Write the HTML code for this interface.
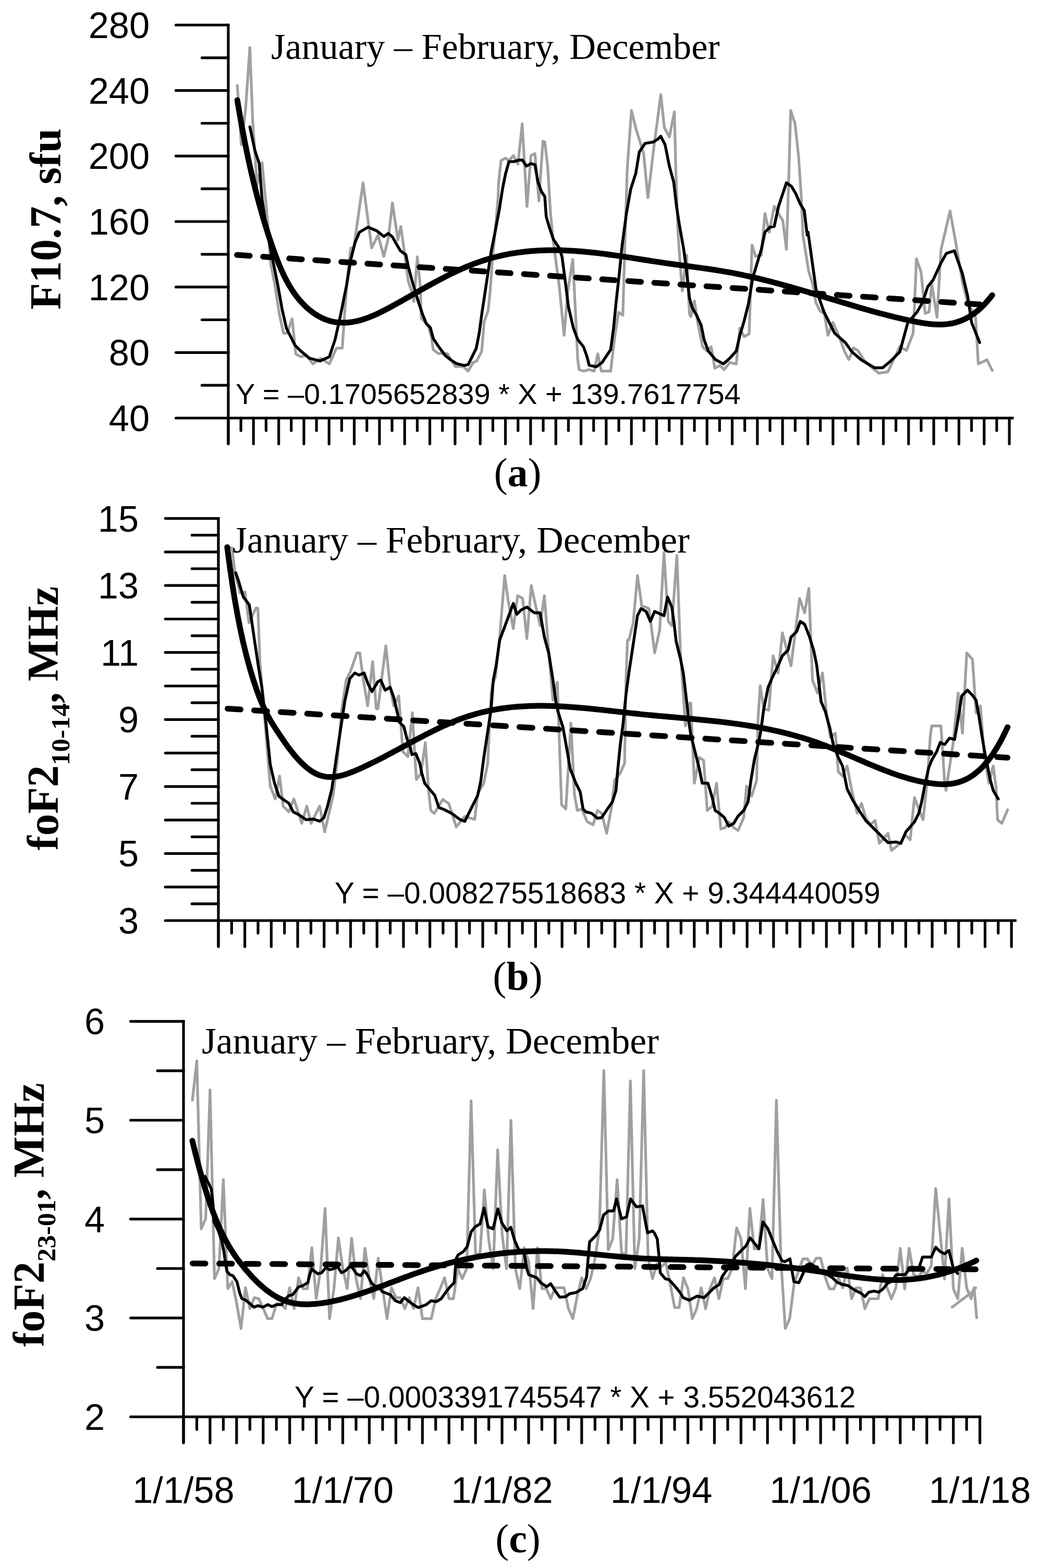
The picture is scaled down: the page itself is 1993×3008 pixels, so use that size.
<!DOCTYPE html>
<html><head><meta charset="utf-8"><title>F10.7 and foF2 trends</title>
<style>
html,body{margin:0;padding:0;background:#fff;}
body{width:1993px;height:3008px;overflow:hidden;}
svg{display:block;}
.k{stroke:#000;stroke-width:5.2;fill:none;}
.r{stroke-linecap:round;}
.num{font-family:"Liberation Sans",Arial,sans-serif;font-size:70.3px;fill:#000;}
.eq{font-family:"Liberation Sans",Arial,sans-serif;font-size:56px;fill:#000;}
.ttl{font-family:"Liberation Serif","Times New Roman",serif;font-size:70.2px;fill:#000;}
.yt{font-family:"Liberation Serif","Times New Roman",serif;font-size:84px;font-weight:bold;fill:#000;}
.cap{font-family:"Liberation Serif","Times New Roman",serif;font-size:78px;fill:#000;}
.gray{stroke:#a0a0a0;stroke-width:5.2;fill:none;stroke-linejoin:round;stroke-linecap:round;}
.thin{stroke:#000;stroke-width:5.5;fill:none;stroke-linejoin:round;stroke-linecap:round;}
.thick{stroke:#000;stroke-width:11;fill:none;stroke-linejoin:round;stroke-linecap:round;}
.dash{stroke:#000;stroke-width:11;fill:none;stroke-dasharray:25 25.6;stroke-linecap:round;}
</style></head><body>
<svg width="1993" height="3008" viewBox="0 0 1993 3008">

<path class="gray" d="M455.2,163.8 L462.9,277.8 L471.1,209.1 L479.3,91.0 L484.8,233.8 L493.1,354.7 L502.7,312.1 L513.7,428.9 L519.2,505.8 L527.4,547.0 L535.7,602.0 L543.9,639.1 L550.8,639.1 L560.4,611.6 L567.3,678.9 L576.9,684.4 L587.9,681.6 L600.2,698.1 L615.3,687.1 L631.8,698.1 L645.5,667.9 L656.5,667.9 L662.0,588.2 L667.5,519.6 L673.0,475.6 L678.5,475.6 L684.0,437.1 L696.4,350.6 L712.9,475.6 L725.2,450.9 L736.2,492.1 L745.0,456.3 L752.7,389.3 L763.2,460.1 L768.9,434.3 L775.6,483.1 L783.3,540.5 L790.0,559.6 L793.8,578.7 L800.5,492.6 L806.2,550.0 L808.1,611.2 L813.9,617.0 L821.5,624.6 L827.3,645.7 L831.1,670.6 L840.7,678.2 L857.9,678.2 L867.4,693.5 L873.2,703.1 L888.5,703.1 L898.1,711.7 L907.6,695.4 L914.3,692.6 L923.9,674.4 L928.7,617.0 L936.3,595.9 L940.2,559.6 L944.9,492.6 L949.7,444.8 L955.5,377.8 L956.2,353.1 L961.0,308.1 L969.6,303.3 L976.3,308.1 L984.9,298.5 L993.5,314.8 L1001.7,237.3 L1010.8,396.1 L1018.4,298.5 L1026.1,294.7 L1033.7,385.6 L1041.4,270.8 L1045.0,272.3 L1050.5,319.0 L1056.0,409.7 L1061.5,464.6 L1067.0,505.8 L1072.5,547.0 L1076.6,588.2 L1082.1,643.2 L1089.0,560.8 L1098.6,497.6 L1104.1,602.0 L1108.2,689.9 L1110.9,709.1 L1119.2,711.9 L1130.2,709.1 L1139.8,711.9 L1146.6,678.9 L1153.5,711.9 L1163.1,711.9 L1171.4,711.9 L1179.6,643.2 L1186.5,599.2 L1194.7,604.7 L1198.8,464.6 L1203.0,327.3 L1211.2,211.9 L1220.8,250.3 L1227.7,272.3 L1234.6,294.3 L1242.8,379.5 L1253.8,286.0 L1267.5,181.6 L1274.4,244.8 L1284.0,262.7 L1293.6,214.6 L1296.4,327.3 L1300.5,445.4 L1304.6,505.8 L1308.7,558.0 L1317.0,489.3 L1319.7,547.0 L1322.5,602.0 L1325.2,607.5 L1332.1,577.3 L1337.6,615.7 L1345.0,651.4 L1347.7,665.2 L1356.0,673.4 L1364.2,665.2 L1371.1,706.4 L1380.7,700.9 L1389.0,709.1 L1399.9,695.4 L1412.3,698.1 L1419.2,629.5 L1427.4,645.9 L1437.0,640.4 L1442.5,470.1 L1449.4,492.1 L1460.4,489.3 L1467.3,409.7 L1475.5,445.4 L1485.1,395.9 L1493.4,409.7 L1501.6,423.4 L1508.5,478.4 L1512.6,354.7 L1516.7,211.9 L1524.9,236.6 L1531.8,299.8 L1537.3,382.2 L1540.1,450.9 L1551.0,519.6 L1559.3,547.0 L1564.8,580.0 L1573.0,596.5 L1581.3,602.0 L1588.1,643.2 L1597.7,618.5 L1608.7,643.2 L1619.7,673.4 L1628.0,689.9 L1636.2,670.7 L1636.7,667.3 L1645.7,672.4 L1657.1,690.3 L1669.9,703.1 L1685.2,715.8 L1703.1,713.3 L1726.0,664.8 L1738.8,672.4 L1751.5,639.3 L1754.1,588.3 L1757.9,496.4 L1766.8,521.9 L1774.5,601.0 L1782.1,598.5 L1787.2,544.9 L1797.4,608.7 L1805.1,478.6 L1822.4,404.6 L1835.7,478.6 L1845.9,539.8 L1856.1,580.6 L1871.4,608.7 L1876.5,698.0 L1893.1,690.3 L1903.3,710.7"/>
<path class="thin" d="M479.3,243.5 L489.0,288.8 L497.2,313.5 L502.7,382.2 L510.9,437.1 L521.9,492.1 L532.9,547.0 L541.2,593.7 L549.4,629.5 L565.9,662.4 L576.9,673.4 L593.4,687.1 L614.0,692.6 L631.8,684.4 L642.8,651.4 L653.8,602.0 L664.8,547.0 L673.0,497.6 L681.3,464.6 L689.5,445.4 L706.0,435.8 L722.5,442.6 L736.2,453.6 L745.0,447.7 L752.7,454.4 L760.3,467.8 L768.0,481.1 L778.5,488.8 L783.3,511.8 L790.9,540.5 L796.7,559.6 L802.4,578.7 L810.1,601.7 L817.7,620.8 L825.4,628.5 L831.1,649.5 L834.9,655.3 L842.6,666.7 L854.1,682.0 L863.6,689.7 L875.1,697.3 L890.4,701.2 L898.1,699.3 L905.7,684.0 L913.4,668.6 L919.1,639.9 L924.8,597.9 L930.6,559.6 L936.3,521.3 L942.1,483.1 L949.7,444.8 L958.1,400.0 L963.9,362.6 L969.6,333.9 L976.3,310.0 L985.9,310.0 L995.4,307.1 L1002.1,307.1 L1009.8,318.6 L1018.4,313.8 L1026.1,315.8 L1031.8,348.3 L1038.5,367.4 L1045.0,377.0 L1047.7,415.2 L1053.2,434.4 L1061.5,459.1 L1072.5,475.6 L1078.0,492.1 L1083.5,533.3 L1090.3,588.2 L1099.9,629.5 L1108.2,651.4 L1119.2,665.2 L1126.0,684.4 L1130.2,700.9 L1143.9,703.6 L1154.9,695.4 L1165.9,678.9 L1171.4,670.7 L1176.9,629.5 L1182.4,574.5 L1187.9,525.1 L1193.4,470.1 L1201.6,409.7 L1209.8,363.0 L1219.5,332.7 L1226.3,291.5 L1237.3,275.1 L1253.8,272.3 L1262.0,266.8 L1267.5,261.3 L1275.8,277.8 L1284.0,319.0 L1292.3,349.2 L1297.7,395.9 L1303.2,431.6 L1311.5,478.4 L1317.0,519.6 L1322.5,571.8 L1328.0,591.0 L1336.2,604.7 L1345.0,624.0 L1350.5,651.4 L1358.7,673.4 L1372.5,689.9 L1387.6,698.1 L1399.9,687.1 L1412.3,673.4 L1419.2,643.2 L1427.4,615.7 L1435.7,582.7 L1443.9,533.3 L1452.1,505.8 L1460.4,478.4 L1467.3,445.4 L1476.9,435.8 L1485.1,434.4 L1493.4,395.9 L1508.5,350.6 L1518.1,357.5 L1526.3,371.2 L1534.6,390.4 L1542.8,404.2 L1548.3,450.9 L1550.0,445.4 L1565.3,555.1 L1580.6,598.5 L1601.0,639.3 L1621.4,657.1 L1634.2,675.0 L1652.0,690.3 L1677.6,705.6 L1692.9,705.6 L1708.2,692.9 L1726.0,675.0 L1741.3,618.9 L1759.2,598.5 L1769.4,580.6 L1779.6,550.0 L1789.8,537.2 L1805.1,504.1 L1815.3,486.2 L1830.6,481.1 L1845.9,524.5 L1856.1,567.9 L1863.8,618.9 L1879.1,657.1"/>
<path class="dash" style="stroke-dasharray:24.5 25.64" d="M454.6,489.1 L1902.5,585.6"/>
<path class="thick" d="M455.2,192.1 L460.2,221.8 L465.2,249.5 L470.2,275.5 L475.2,299.8 L480.2,322.7 L485.2,344.3 L490.2,364.6 L495.2,383.8 L500.2,402.0 L505.1,419.3 L510.1,435.7 L515.1,451.4 L520.1,466.4 L525.1,480.7 L530.1,494.2 L535.1,506.9 L540.1,518.6 L545.1,529.4 L550.1,539.3 L555.1,548.2 L560.1,556.2 L565.1,563.6 L570.1,570.2 L575.1,576.2 L580.0,581.7 L585.0,586.7 L590.0,591.4 L595.0,595.6 L600.0,599.4 L605.0,602.9 L610.0,606.0 L615.0,608.7 L620.0,611.1 L625.0,613.1 L630.0,614.9 L635.0,616.3 L640.0,617.4 L645.0,618.2 L650.0,618.8 L654.9,619.1 L659.9,619.1 L664.9,618.9 L669.9,618.5 L674.9,617.8 L679.9,616.9 L684.9,615.9 L689.9,614.6 L694.9,613.2 L699.9,611.6 L704.9,609.8 L709.9,607.9 L714.9,605.9 L719.9,603.7 L724.9,601.4 L729.9,599.0 L734.8,596.5 L739.8,594.0 L744.8,591.4 L749.8,588.7 L754.8,585.9 L759.8,583.2 L764.8,580.4 L769.8,577.6 L774.8,574.7 L779.8,571.9 L784.8,569.1 L789.8,566.2 L794.8,563.4 L799.8,560.6 L804.8,557.7 L809.7,554.9 L814.7,552.1 L819.7,549.4 L824.7,546.6 L829.7,543.9 L834.7,541.2 L839.7,538.5 L844.7,535.9 L849.7,533.3 L854.7,530.7 L859.7,528.2 L864.7,525.7 L869.7,523.3 L874.7,520.9 L879.7,518.6 L884.6,516.3 L889.6,514.1 L894.6,511.9 L899.6,509.9 L904.6,507.9 L909.6,505.9 L914.6,504.1 L919.6,502.3 L924.6,500.6 L929.6,499.0 L934.6,497.4 L939.6,495.9 L944.6,494.5 L949.6,493.2 L954.6,492.0 L959.5,490.8 L964.5,489.7 L969.5,488.6 L974.5,487.6 L979.5,486.7 L984.5,485.9 L989.5,485.1 L994.5,484.4 L999.5,483.7 L1004.5,483.1 L1009.5,482.5 L1014.5,482.0 L1019.5,481.6 L1024.5,481.2 L1029.5,480.9 L1034.5,480.6 L1039.4,480.4 L1044.4,480.2 L1049.4,480.1 L1054.4,480.0 L1059.4,480.0 L1064.4,480.0 L1069.4,480.0 L1074.4,480.1 L1079.4,480.3 L1084.4,480.4 L1089.4,480.7 L1094.4,480.9 L1099.4,481.2 L1104.4,481.5 L1109.4,481.9 L1114.3,482.3 L1119.3,482.7 L1124.3,483.2 L1129.3,483.7 L1134.3,484.2 L1139.3,484.7 L1144.3,485.3 L1149.3,485.9 L1154.3,486.5 L1159.3,487.1 L1164.3,487.8 L1169.3,488.5 L1174.3,489.2 L1179.3,489.9 L1184.3,490.6 L1189.2,491.3 L1194.2,492.1 L1199.2,492.8 L1204.2,493.6 L1209.2,494.3 L1214.2,495.1 L1219.2,495.9 L1224.2,496.7 L1229.2,497.5 L1234.2,498.3 L1239.2,499.0 L1244.2,499.8 L1249.2,500.6 L1254.2,501.4 L1259.2,502.1 L1264.2,502.9 L1269.1,503.6 L1274.1,504.4 L1279.1,505.1 L1284.1,505.8 L1289.1,506.5 L1294.1,507.2 L1299.1,507.9 L1304.1,508.5 L1309.1,509.2 L1314.1,509.9 L1319.1,510.5 L1324.1,511.2 L1329.1,511.9 L1334.1,512.6 L1339.1,513.2 L1344.0,513.9 L1349.0,514.6 L1354.0,515.3 L1359.0,516.0 L1364.0,516.8 L1369.0,517.5 L1374.0,518.3 L1379.0,519.1 L1384.0,519.9 L1389.0,520.8 L1394.0,521.6 L1399.0,522.5 L1404.0,523.4 L1409.0,524.4 L1414.0,525.4 L1418.9,526.4 L1423.9,527.4 L1428.9,528.5 L1433.9,529.6 L1438.9,530.7 L1443.9,531.8 L1448.9,533.0 L1453.9,534.2 L1458.9,535.4 L1463.9,536.6 L1468.9,537.9 L1473.9,539.1 L1478.9,540.4 L1483.9,541.7 L1488.9,543.1 L1493.9,544.4 L1498.8,545.7 L1503.8,547.1 L1508.8,548.5 L1513.8,549.9 L1518.8,551.3 L1523.8,552.7 L1528.8,554.2 L1533.8,555.6 L1538.8,557.1 L1543.8,558.5 L1548.8,560.0 L1553.8,561.5 L1558.8,563.0 L1563.8,564.5 L1568.8,566.0 L1573.7,567.5 L1578.7,569.0 L1583.7,570.5 L1588.7,572.0 L1593.7,573.5 L1598.7,575.1 L1603.7,576.6 L1608.7,578.1 L1613.7,579.6 L1618.7,581.1 L1623.7,582.6 L1628.7,584.1 L1633.7,585.6 L1638.7,587.1 L1643.7,588.5 L1648.6,590.0 L1653.6,591.4 L1658.6,592.9 L1663.6,594.3 L1668.6,595.7 L1673.6,597.1 L1678.6,598.5 L1683.6,599.9 L1688.6,601.2 L1693.6,602.5 L1698.6,603.8 L1703.6,605.1 L1708.6,606.4 L1713.6,607.6 L1718.6,608.8 L1723.6,610.0 L1728.5,611.2 L1733.5,612.3 L1738.5,613.4 L1743.5,614.5 L1748.5,615.6 L1753.5,616.6 L1758.5,617.6 L1763.5,618.5 L1768.5,619.4 L1773.5,620.2 L1778.5,620.9 L1783.5,621.5 L1788.5,622.0 L1793.5,622.3 L1798.5,622.6 L1803.4,622.6 L1808.4,622.5 L1813.4,622.1 L1818.4,621.6 L1823.4,620.8 L1828.4,619.8 L1833.4,618.6 L1838.4,617.0 L1843.4,615.2 L1848.4,613.1 L1853.4,610.7 L1858.4,608.0 L1863.4,604.9 L1868.4,601.5 L1873.4,597.7 L1878.3,593.5 L1883.3,588.9 L1888.3,583.8 L1893.3,578.4 L1898.3,572.5 L1903.3,566.2"/>
<line x1="437.9" y1="45.4" x2="437.9" y2="851.6" class="k"/>
<line x1="437.9" y1="802.0" x2="437.9" y2="851.6" class="k r"/>
<line x1="337.4" y1="48.0" x2="437.9" y2="48.0" class="k r"/>
<line x1="387.4" y1="110.8" x2="437.9" y2="110.8" class="k r"/>
<line x1="337.4" y1="173.7" x2="437.9" y2="173.7" class="k r"/>
<line x1="387.4" y1="236.5" x2="437.9" y2="236.5" class="k r"/>
<line x1="337.4" y1="299.3" x2="437.9" y2="299.3" class="k r"/>
<line x1="387.4" y1="362.2" x2="437.9" y2="362.2" class="k r"/>
<line x1="337.4" y1="425.0" x2="437.9" y2="425.0" class="k r"/>
<line x1="387.4" y1="487.8" x2="437.9" y2="487.8" class="k r"/>
<line x1="337.4" y1="550.7" x2="437.9" y2="550.7" class="k r"/>
<line x1="387.4" y1="613.5" x2="437.9" y2="613.5" class="k r"/>
<line x1="337.4" y1="676.3" x2="437.9" y2="676.3" class="k r"/>
<line x1="387.4" y1="739.2" x2="437.9" y2="739.2" class="k r"/>
<line x1="337.4" y1="802.0" x2="437.9" y2="802.0" class="k r"/>
<line x1="435.3" y1="802.0" x2="1944.6" y2="802.0" class="k"/>
<line x1="462.1" y1="802.0" x2="462.1" y2="826.1" class="k r"/>
<line x1="486.2" y1="802.0" x2="486.2" y2="851.6" class="k r"/>
<line x1="510.4" y1="802.0" x2="510.4" y2="826.1" class="k r"/>
<line x1="534.6" y1="802.0" x2="534.6" y2="851.6" class="k r"/>
<line x1="558.7" y1="802.0" x2="558.7" y2="826.1" class="k r"/>
<line x1="582.9" y1="802.0" x2="582.9" y2="851.6" class="k r"/>
<line x1="607.1" y1="802.0" x2="607.1" y2="826.1" class="k r"/>
<line x1="631.2" y1="802.0" x2="631.2" y2="851.6" class="k r"/>
<line x1="655.4" y1="802.0" x2="655.4" y2="826.1" class="k r"/>
<line x1="679.5" y1="802.0" x2="679.5" y2="851.6" class="k r"/>
<line x1="703.7" y1="802.0" x2="703.7" y2="826.1" class="k r"/>
<line x1="727.9" y1="802.0" x2="727.9" y2="851.6" class="k r"/>
<line x1="752.0" y1="802.0" x2="752.0" y2="826.1" class="k r"/>
<line x1="776.2" y1="802.0" x2="776.2" y2="851.6" class="k r"/>
<line x1="800.4" y1="802.0" x2="800.4" y2="826.1" class="k r"/>
<line x1="824.5" y1="802.0" x2="824.5" y2="851.6" class="k r"/>
<line x1="848.7" y1="802.0" x2="848.7" y2="826.1" class="k r"/>
<line x1="872.9" y1="802.0" x2="872.9" y2="851.6" class="k r"/>
<line x1="897.0" y1="802.0" x2="897.0" y2="826.1" class="k r"/>
<line x1="921.2" y1="802.0" x2="921.2" y2="851.6" class="k r"/>
<line x1="945.4" y1="802.0" x2="945.4" y2="826.1" class="k r"/>
<line x1="969.5" y1="802.0" x2="969.5" y2="851.6" class="k r"/>
<line x1="993.7" y1="802.0" x2="993.7" y2="826.1" class="k r"/>
<line x1="1017.8" y1="802.0" x2="1017.8" y2="851.6" class="k r"/>
<line x1="1042.0" y1="802.0" x2="1042.0" y2="826.1" class="k r"/>
<line x1="1066.2" y1="802.0" x2="1066.2" y2="851.6" class="k r"/>
<line x1="1090.3" y1="802.0" x2="1090.3" y2="826.1" class="k r"/>
<line x1="1114.5" y1="802.0" x2="1114.5" y2="851.6" class="k r"/>
<line x1="1138.7" y1="802.0" x2="1138.7" y2="826.1" class="k r"/>
<line x1="1162.8" y1="802.0" x2="1162.8" y2="851.6" class="k r"/>
<line x1="1187.0" y1="802.0" x2="1187.0" y2="826.1" class="k r"/>
<line x1="1211.2" y1="802.0" x2="1211.2" y2="851.6" class="k r"/>
<line x1="1235.3" y1="802.0" x2="1235.3" y2="826.1" class="k r"/>
<line x1="1259.5" y1="802.0" x2="1259.5" y2="851.6" class="k r"/>
<line x1="1283.7" y1="802.0" x2="1283.7" y2="826.1" class="k r"/>
<line x1="1307.8" y1="802.0" x2="1307.8" y2="851.6" class="k r"/>
<line x1="1332.0" y1="802.0" x2="1332.0" y2="826.1" class="k r"/>
<line x1="1356.2" y1="802.0" x2="1356.2" y2="851.6" class="k r"/>
<line x1="1380.3" y1="802.0" x2="1380.3" y2="826.1" class="k r"/>
<line x1="1404.5" y1="802.0" x2="1404.5" y2="851.6" class="k r"/>
<line x1="1428.6" y1="802.0" x2="1428.6" y2="826.1" class="k r"/>
<line x1="1452.8" y1="802.0" x2="1452.8" y2="851.6" class="k r"/>
<line x1="1477.0" y1="802.0" x2="1477.0" y2="826.1" class="k r"/>
<line x1="1501.1" y1="802.0" x2="1501.1" y2="851.6" class="k r"/>
<line x1="1525.3" y1="802.0" x2="1525.3" y2="826.1" class="k r"/>
<line x1="1549.5" y1="802.0" x2="1549.5" y2="851.6" class="k r"/>
<line x1="1573.6" y1="802.0" x2="1573.6" y2="826.1" class="k r"/>
<line x1="1597.8" y1="802.0" x2="1597.8" y2="851.6" class="k r"/>
<line x1="1622.0" y1="802.0" x2="1622.0" y2="826.1" class="k r"/>
<line x1="1646.1" y1="802.0" x2="1646.1" y2="851.6" class="k r"/>
<line x1="1670.3" y1="802.0" x2="1670.3" y2="826.1" class="k r"/>
<line x1="1694.5" y1="802.0" x2="1694.5" y2="851.6" class="k r"/>
<line x1="1718.6" y1="802.0" x2="1718.6" y2="826.1" class="k r"/>
<line x1="1742.8" y1="802.0" x2="1742.8" y2="851.6" class="k r"/>
<line x1="1766.9" y1="802.0" x2="1766.9" y2="826.1" class="k r"/>
<line x1="1791.1" y1="802.0" x2="1791.1" y2="851.6" class="k r"/>
<line x1="1815.3" y1="802.0" x2="1815.3" y2="826.1" class="k r"/>
<line x1="1839.4" y1="802.0" x2="1839.4" y2="851.6" class="k r"/>
<line x1="1863.6" y1="802.0" x2="1863.6" y2="826.1" class="k r"/>
<line x1="1887.8" y1="802.0" x2="1887.8" y2="851.6" class="k r"/>
<line x1="1911.9" y1="802.0" x2="1911.9" y2="826.1" class="k r"/>
<line x1="1936.1" y1="802.0" x2="1936.1" y2="851.6" class="k r"/>
<text x="287" y="73.0" class="num" text-anchor="end">280</text>
<text x="287" y="198.7" class="num" text-anchor="end">240</text>
<text x="287" y="324.3" class="num" text-anchor="end">200</text>
<text x="287" y="450.0" class="num" text-anchor="end">160</text>
<text x="287" y="575.7" class="num" text-anchor="end">120</text>
<text x="287" y="701.3" class="num" text-anchor="end">80</text>
<text x="287" y="827.0" class="num" text-anchor="end">40</text>
<path class="gray" d="M435.8,1050.1 L445.3,1051.4 L450.3,1097.0 L460.5,1137.6 L470.0,1135.7 L477.6,1194.6 L490.9,1166.7 L494.7,1166.7 L498.5,1268.1 L512.9,1442.1 L518.4,1508.0 L528.0,1532.7 L536.3,1488.8 L543.1,1546.5 L554.1,1557.5 L563.7,1532.7 L578.8,1579.5 L588.5,1546.5 L596.7,1579.5 L613.2,1546.5 L622.8,1595.9 L639.3,1524.5 L647.5,1455.8 L655.8,1359.7 L664.0,1304.7 L672.3,1288.2 L684.6,1252.5 L690.1,1252.5 L697.0,1304.7 L705.2,1354.2 L714.8,1269.0 L721.7,1359.7 L725.0,1359.7 L740.1,1238.8 L748.4,1318.5 L755.2,1354.2 L764.8,1334.9 L772.8,1441.8 L782.4,1451.4 L791.0,1367.2 L794.8,1436.1 L798.7,1495.4 L807.3,1483.9 L815.9,1424.6 L822.6,1522.2 L826.4,1554.7 L833.1,1560.5 L849.4,1533.7 L860.8,1541.3 L875.2,1586.3 L891.5,1566.2 L910.6,1571.9 L916.3,1522.2 L927.8,1503.1 L935.5,1464.8 L942.0,1332.2 L944.8,1313.0 L950.3,1299.2 L958.5,1222.3 L968.1,1104.2 L975.0,1153.6 L984.6,1205.8 L992.9,1142.6 L1002.5,1148.1 L1010.7,1225.1 L1019.0,1123.4 L1025.0,1150.9 L1036.0,1200.3 L1044.2,1142.6 L1052.5,1249.8 L1060.7,1343.2 L1069.0,1308.8 L1077.2,1543.7 L1085.4,1552.0 L1095.1,1387.1 L1101.9,1524.5 L1107.4,1554.7 L1115.7,1552.0 L1126.6,1576.7 L1137.6,1582.2 L1145.9,1554.7 L1154.1,1560.2 L1163.7,1598.7 L1173.4,1546.5 L1178.8,1497.0 L1189.8,1483.3 L1198.1,1464.1 L1200.8,1304.7 L1203.6,1227.8 L1206.3,1227.8 L1214.6,1194.8 L1222.8,1104.2 L1231.0,1161.9 L1244.8,1167.4 L1255.8,1252.5 L1265.4,1208.6 L1273.6,1060.2 L1281.9,1192.1 L1288.7,1200.3 L1298.4,1065.7 L1305.2,1249.8 L1310.7,1332.2 L1314.8,1392.6 L1323.1,1348.7 L1325.0,1348.7 L1331.9,1502.5 L1341.5,1453.1 L1349.7,1458.6 L1356.6,1554.7 L1366.2,1546.5 L1374.5,1502.5 L1382.7,1590.4 L1390.9,1587.7 L1397.8,1576.7 L1407.4,1587.7 L1415.7,1593.2 L1426.6,1568.5 L1432.1,1508.0 L1441.8,1527.3 L1451.4,1497.0 L1454.1,1378.9 L1458.2,1315.7 L1465.1,1359.7 L1474.7,1362.4 L1483.0,1258.0 L1492.6,1291.0 L1500.8,1214.1 L1517.3,1277.3 L1533.8,1148.1 L1543.4,1175.6 L1551.6,1128.9 L1558.5,1304.7 L1568.1,1329.5 L1577.7,1291.0 L1586.0,1373.4 L1592.9,1414.6 L1602.5,1406.4 L1608.0,1480.5 L1616.2,1488.8 L1625.0,1469.6 L1633.2,1513.5 L1644.2,1560.2 L1652.5,1541.0 L1660.7,1568.5 L1669.0,1582.2 L1678.6,1574.0 L1686.8,1617.9 L1703.3,1598.7 L1710.2,1631.6 L1726.6,1617.9 L1736.3,1601.4 L1745.9,1611.0 L1754.1,1530.0 L1762.4,1552.0 L1770.6,1572.6 L1778.8,1497.0 L1784.3,1414.6 L1787.1,1392.6 L1804.9,1392.6 L1811.8,1497.0 L1814.6,1516.3 L1828.3,1425.6 L1837.9,1329.5 L1846.2,1406.4 L1854.4,1252.5 L1865.4,1264.9 L1872.3,1367.9 L1880.5,1354.2 L1888.7,1455.8 L1897.0,1502.5 L1905.2,1469.6 L1910.7,1510.8 L1913.5,1572.6 L1921.7,1579.5 L1932.7,1553.4"/>
<path class="thin" d="M452.2,1098.9 L458.0,1116.0 L466.8,1145.2 L478.2,1160.4 L482.0,1185.8 L488.4,1230.1 L496.0,1280.8 L502.3,1318.8 L510.2,1387.1 L518.4,1466.8 L526.6,1502.5 L534.9,1527.3 L545.9,1535.5 L554.1,1541.0 L562.4,1557.5 L573.4,1563.0 L587.1,1572.6 L600.8,1571.2 L613.2,1575.3 L621.4,1568.5 L628.3,1546.5 L636.5,1513.5 L644.8,1455.8 L653.0,1400.9 L661.3,1345.9 L670.9,1302.0 L680.5,1291.0 L688.7,1295.1 L698.4,1291.0 L705.2,1310.2 L713.5,1326.7 L725.0,1307.5 L730.5,1304.7 L738.7,1324.0 L748.4,1318.5 L755.2,1337.7 L763.5,1373.4 L765.2,1384.4 L774.7,1394.0 L780.5,1417.0 L786.2,1430.4 L790.1,1447.6 L797.7,1445.7 L805.4,1464.8 L809.2,1483.9 L814.9,1503.1 L824.5,1514.5 L834.1,1526.0 L841.7,1549.0 L851.3,1552.8 L866.6,1560.5 L881.9,1571.9 L891.5,1575.8 L904.8,1549.0 L916.3,1526.0 L922.1,1499.2 L927.8,1455.2 L933.5,1417.0 L939.3,1378.7 L942.0,1359.7 L946.2,1304.7 L951.6,1277.3 L958.5,1227.8 L966.8,1205.8 L975.0,1183.8 L984.6,1157.7 L991.5,1178.4 L999.7,1170.1 L1010.7,1164.6 L1025.0,1175.6 L1036.0,1175.6 L1044.2,1222.3 L1052.5,1252.5 L1060.7,1304.7 L1066.2,1345.9 L1070.3,1365.2 L1079.9,1395.4 L1088.2,1442.1 L1093.7,1475.1 L1104.7,1502.5 L1112.9,1519.0 L1118.4,1552.0 L1123.9,1557.5 L1134.9,1560.2 L1145.9,1569.8 L1154.1,1568.5 L1165.1,1552.0 L1174.7,1538.2 L1181.6,1516.3 L1184.3,1483.3 L1189.8,1428.4 L1195.3,1387.1 L1200.8,1332.2 L1206.3,1291.0 L1214.6,1236.0 L1222.8,1181.1 L1229.7,1167.4 L1239.3,1172.9 L1247.5,1192.1 L1255.8,1172.9 L1273.6,1181.1 L1280.5,1145.4 L1288.7,1164.6 L1292.9,1194.8 L1297.0,1230.5 L1305.2,1263.5 L1310.7,1291.0 L1316.2,1337.7 L1321.7,1387.1 L1325.0,1409.1 L1333.2,1442.1 L1341.5,1475.1 L1347.0,1502.5 L1358.0,1502.5 L1366.2,1530.0 L1371.7,1554.7 L1379.9,1560.2 L1389.6,1568.5 L1397.8,1584.9 L1407.4,1579.5 L1415.7,1565.7 L1426.6,1554.7 L1434.9,1538.2 L1440.4,1497.0 L1447.3,1455.8 L1455.5,1422.9 L1459.6,1400.9 L1465.1,1359.7 L1473.4,1318.5 L1481.6,1299.2 L1489.8,1282.7 L1500.8,1258.0 L1511.8,1247.0 L1517.3,1222.3 L1528.3,1211.3 L1535.2,1192.1 L1543.4,1197.6 L1553.0,1222.3 L1561.3,1249.8 L1566.8,1277.3 L1575.0,1345.9 L1583.2,1365.2 L1591.5,1395.4 L1598.4,1428.4 L1608.0,1453.1 L1616.2,1469.6 L1625.0,1513.5 L1636.0,1535.5 L1649.7,1557.5 L1660.7,1574.0 L1674.5,1587.7 L1688.2,1601.4 L1703.3,1616.5 L1718.4,1615.2 L1728.0,1617.9 L1737.6,1595.9 L1754.1,1576.7 L1762.4,1560.2 L1767.9,1538.2 L1774.7,1502.5 L1781.6,1472.3 L1788.5,1455.8 L1796.7,1442.1 L1803.6,1424.2 L1811.8,1428.4 L1821.4,1416.0 L1831.0,1418.7 L1836.5,1387.1 L1844.8,1334.9 L1855.8,1324.0 L1864.0,1332.2 L1872.3,1343.2 L1877.7,1373.4 L1883.2,1409.1 L1888.7,1442.1 L1894.2,1469.6 L1899.7,1497.0 L1905.2,1516.3 L1914.8,1532.7"/>
<path class="dash" style="stroke-dasharray:25 26" d="M436.5,1359.5 L1932.5,1453.5"/>
<path class="thick" d="M435.8,1049.6 L440.8,1087.3 L445.8,1121.5 L450.7,1152.4 L455.7,1180.4 L460.7,1205.7 L465.7,1228.8 L470.7,1249.9 L475.7,1269.1 L480.7,1286.9 L485.7,1303.3 L490.7,1318.5 L495.6,1332.4 L500.6,1345.1 L505.6,1356.7 L510.6,1367.1 L515.6,1376.5 L520.6,1385.2 L525.6,1393.2 L530.6,1400.9 L535.6,1408.5 L540.6,1415.9 L545.5,1423.1 L550.5,1430.1 L555.5,1436.9 L560.5,1443.3 L565.5,1449.4 L570.5,1455.2 L575.5,1460.6 L580.5,1465.5 L585.5,1470.1 L590.5,1474.2 L595.4,1477.9 L600.4,1481.2 L605.4,1483.9 L610.4,1486.2 L615.4,1487.9 L620.4,1489.2 L625.4,1490.1 L630.4,1490.6 L635.4,1490.6 L640.4,1490.3 L645.3,1489.7 L650.3,1488.9 L655.3,1487.7 L660.3,1486.3 L665.3,1484.7 L670.3,1482.9 L675.3,1481.0 L680.3,1479.0 L685.3,1476.8 L690.2,1474.7 L695.2,1472.4 L700.2,1470.1 L705.2,1467.7 L710.2,1465.3 L715.2,1462.9 L720.2,1460.4 L725.2,1457.9 L730.2,1455.3 L735.2,1452.8 L740.1,1450.2 L745.1,1447.5 L750.1,1444.9 L755.1,1442.2 L760.1,1439.5 L765.1,1436.8 L770.1,1434.2 L775.1,1431.5 L780.1,1428.8 L785.1,1426.1 L790.0,1423.4 L795.0,1420.7 L800.0,1418.1 L805.0,1415.4 L810.0,1412.8 L815.0,1410.2 L820.0,1407.7 L825.0,1405.2 L830.0,1402.7 L835.0,1400.2 L839.9,1397.8 L844.9,1395.4 L849.9,1393.1 L854.9,1390.9 L859.9,1388.7 L864.9,1386.5 L869.9,1384.4 L874.9,1382.4 L879.9,1380.5 L884.8,1378.6 L889.8,1376.8 L894.8,1375.1 L899.8,1373.5 L904.8,1371.9 L909.8,1370.4 L914.8,1369.0 L919.8,1367.7 L924.8,1366.4 L929.8,1365.3 L934.7,1364.1 L939.7,1363.1 L944.7,1362.1 L949.7,1361.2 L954.7,1360.3 L959.7,1359.5 L964.7,1358.8 L969.7,1358.1 L974.7,1357.5 L979.7,1356.9 L984.6,1356.4 L989.6,1356.0 L994.6,1355.6 L999.6,1355.2 L1004.6,1354.9 L1009.6,1354.7 L1014.6,1354.5 L1019.6,1354.3 L1024.6,1354.2 L1029.6,1354.1 L1034.5,1354.1 L1039.5,1354.1 L1044.5,1354.1 L1049.5,1354.2 L1054.5,1354.3 L1059.5,1354.4 L1064.5,1354.6 L1069.5,1354.8 L1074.5,1355.1 L1079.4,1355.3 L1084.4,1355.6 L1089.4,1356.0 L1094.4,1356.3 L1099.4,1356.7 L1104.4,1357.0 L1109.4,1357.5 L1114.4,1357.9 L1119.4,1358.3 L1124.4,1358.8 L1129.3,1359.3 L1134.3,1359.7 L1139.3,1360.2 L1144.3,1360.8 L1149.3,1361.3 L1154.3,1361.8 L1159.3,1362.4 L1164.3,1362.9 L1169.3,1363.5 L1174.3,1364.0 L1179.2,1364.6 L1184.2,1365.1 L1189.2,1365.7 L1194.2,1366.3 L1199.2,1366.8 L1204.2,1367.4 L1209.2,1367.9 L1214.2,1368.5 L1219.2,1369.0 L1224.2,1369.5 L1229.1,1370.1 L1234.1,1370.6 L1239.1,1371.1 L1244.1,1371.6 L1249.1,1372.0 L1254.1,1372.5 L1259.1,1373.0 L1264.1,1373.4 L1269.1,1373.9 L1274.0,1374.3 L1279.0,1374.8 L1284.0,1375.2 L1289.0,1375.7 L1294.0,1376.1 L1299.0,1376.6 L1304.0,1377.0 L1309.0,1377.4 L1314.0,1377.9 L1319.0,1378.3 L1323.9,1378.8 L1328.9,1379.2 L1333.9,1379.7 L1338.9,1380.2 L1343.9,1380.7 L1348.9,1381.2 L1353.9,1381.7 L1358.9,1382.2 L1363.9,1382.7 L1368.9,1383.2 L1373.8,1383.8 L1378.8,1384.3 L1383.8,1384.9 L1388.8,1385.5 L1393.8,1386.1 L1398.8,1386.7 L1403.8,1387.4 L1408.8,1388.1 L1413.8,1388.7 L1418.8,1389.4 L1423.7,1390.2 L1428.7,1390.9 L1433.7,1391.7 L1438.7,1392.5 L1443.7,1393.3 L1448.7,1394.2 L1453.7,1395.1 L1458.7,1396.0 L1463.7,1396.9 L1468.6,1397.9 L1473.6,1398.9 L1478.6,1399.9 L1483.6,1401.0 L1488.6,1402.1 L1493.6,1403.2 L1498.6,1404.4 L1503.6,1405.6 L1508.6,1406.9 L1513.6,1408.1 L1518.5,1409.5 L1523.5,1410.8 L1528.5,1412.2 L1533.5,1413.7 L1538.5,1415.1 L1543.5,1416.7 L1548.5,1418.2 L1553.5,1419.8 L1558.5,1421.5 L1563.5,1423.2 L1568.4,1425.0 L1573.4,1426.8 L1578.4,1428.6 L1583.4,1430.5 L1588.4,1432.5 L1593.4,1434.4 L1598.4,1436.4 L1603.4,1438.5 L1608.4,1440.6 L1613.3,1442.6 L1618.3,1444.8 L1623.3,1446.9 L1628.3,1449.0 L1633.3,1451.2 L1638.3,1453.3 L1643.3,1455.5 L1648.3,1457.6 L1653.3,1459.8 L1658.3,1461.9 L1663.2,1464.1 L1668.2,1466.2 L1673.2,1468.3 L1678.2,1470.3 L1683.2,1472.4 L1688.2,1474.4 L1693.2,1476.4 L1698.2,1478.3 L1703.2,1480.2 L1708.2,1482.1 L1713.1,1483.9 L1718.1,1485.7 L1723.1,1487.4 L1728.1,1489.0 L1733.1,1490.6 L1738.1,1492.1 L1743.1,1493.6 L1748.1,1494.9 L1753.1,1496.2 L1758.1,1497.5 L1763.0,1498.6 L1768.0,1499.7 L1773.0,1500.6 L1778.0,1501.5 L1783.0,1502.3 L1788.0,1502.9 L1793.0,1503.5 L1798.0,1504.0 L1803.0,1504.3 L1807.9,1504.4 L1812.9,1504.4 L1817.9,1504.1 L1822.9,1503.7 L1827.9,1503.0 L1832.9,1502.0 L1837.9,1500.8 L1842.9,1499.2 L1847.9,1497.3 L1852.9,1495.1 L1857.8,1492.5 L1862.8,1489.5 L1867.8,1486.1 L1872.8,1482.2 L1877.8,1477.9 L1882.8,1473.2 L1887.8,1467.9 L1892.8,1462.1 L1897.8,1455.8 L1902.8,1449.0 L1907.7,1441.5 L1912.7,1433.5 L1917.7,1424.8 L1922.7,1415.5 L1927.7,1405.5 L1932.7,1394.9"/>
<line x1="418.9" y1="992.0" x2="418.9" y2="1816.0" class="k"/>
<line x1="418.9" y1="1766.0" x2="418.9" y2="1816.0" class="k r"/>
<line x1="317.2" y1="994.6" x2="418.9" y2="994.6" class="k r"/>
<line x1="368.2" y1="1026.7" x2="418.9" y2="1026.7" class="k r"/>
<line x1="317.2" y1="1058.9" x2="418.9" y2="1058.9" class="k r"/>
<line x1="368.2" y1="1091.0" x2="418.9" y2="1091.0" class="k r"/>
<line x1="317.2" y1="1123.2" x2="418.9" y2="1123.2" class="k r"/>
<line x1="368.2" y1="1155.3" x2="418.9" y2="1155.3" class="k r"/>
<line x1="317.2" y1="1187.5" x2="418.9" y2="1187.5" class="k r"/>
<line x1="368.2" y1="1219.6" x2="418.9" y2="1219.6" class="k r"/>
<line x1="317.2" y1="1251.7" x2="418.9" y2="1251.7" class="k r"/>
<line x1="368.2" y1="1283.9" x2="418.9" y2="1283.9" class="k r"/>
<line x1="317.2" y1="1316.0" x2="418.9" y2="1316.0" class="k r"/>
<line x1="368.2" y1="1348.2" x2="418.9" y2="1348.2" class="k r"/>
<line x1="317.2" y1="1380.3" x2="418.9" y2="1380.3" class="k r"/>
<line x1="368.2" y1="1412.4" x2="418.9" y2="1412.4" class="k r"/>
<line x1="317.2" y1="1444.6" x2="418.9" y2="1444.6" class="k r"/>
<line x1="368.2" y1="1476.7" x2="418.9" y2="1476.7" class="k r"/>
<line x1="317.2" y1="1508.9" x2="418.9" y2="1508.9" class="k r"/>
<line x1="368.2" y1="1541.0" x2="418.9" y2="1541.0" class="k r"/>
<line x1="317.2" y1="1573.2" x2="418.9" y2="1573.2" class="k r"/>
<line x1="368.2" y1="1605.3" x2="418.9" y2="1605.3" class="k r"/>
<line x1="317.2" y1="1637.4" x2="418.9" y2="1637.4" class="k r"/>
<line x1="368.2" y1="1669.6" x2="418.9" y2="1669.6" class="k r"/>
<line x1="317.2" y1="1701.7" x2="418.9" y2="1701.7" class="k r"/>
<line x1="368.2" y1="1733.9" x2="418.9" y2="1733.9" class="k r"/>
<line x1="317.2" y1="1766.0" x2="418.9" y2="1766.0" class="k r"/>
<line x1="416.3" y1="1766.0" x2="1949.8" y2="1766.0" class="k"/>
<line x1="444.3" y1="1766.0" x2="444.3" y2="1790.1" class="k r"/>
<line x1="469.6" y1="1766.0" x2="469.6" y2="1816.0" class="k r"/>
<line x1="495.0" y1="1766.0" x2="495.0" y2="1790.1" class="k r"/>
<line x1="520.3" y1="1766.0" x2="520.3" y2="1816.0" class="k r"/>
<line x1="545.7" y1="1766.0" x2="545.7" y2="1790.1" class="k r"/>
<line x1="571.0" y1="1766.0" x2="571.0" y2="1816.0" class="k r"/>
<line x1="596.4" y1="1766.0" x2="596.4" y2="1790.1" class="k r"/>
<line x1="621.7" y1="1766.0" x2="621.7" y2="1816.0" class="k r"/>
<line x1="647.1" y1="1766.0" x2="647.1" y2="1790.1" class="k r"/>
<line x1="672.5" y1="1766.0" x2="672.5" y2="1816.0" class="k r"/>
<line x1="697.8" y1="1766.0" x2="697.8" y2="1790.1" class="k r"/>
<line x1="723.2" y1="1766.0" x2="723.2" y2="1816.0" class="k r"/>
<line x1="748.5" y1="1766.0" x2="748.5" y2="1790.1" class="k r"/>
<line x1="773.9" y1="1766.0" x2="773.9" y2="1816.0" class="k r"/>
<line x1="799.2" y1="1766.0" x2="799.2" y2="1790.1" class="k r"/>
<line x1="824.6" y1="1766.0" x2="824.6" y2="1816.0" class="k r"/>
<line x1="849.9" y1="1766.0" x2="849.9" y2="1790.1" class="k r"/>
<line x1="875.3" y1="1766.0" x2="875.3" y2="1816.0" class="k r"/>
<line x1="900.6" y1="1766.0" x2="900.6" y2="1790.1" class="k r"/>
<line x1="926.0" y1="1766.0" x2="926.0" y2="1816.0" class="k r"/>
<line x1="951.4" y1="1766.0" x2="951.4" y2="1790.1" class="k r"/>
<line x1="976.7" y1="1766.0" x2="976.7" y2="1816.0" class="k r"/>
<line x1="1002.1" y1="1766.0" x2="1002.1" y2="1790.1" class="k r"/>
<line x1="1027.4" y1="1766.0" x2="1027.4" y2="1816.0" class="k r"/>
<line x1="1052.8" y1="1766.0" x2="1052.8" y2="1790.1" class="k r"/>
<line x1="1078.1" y1="1766.0" x2="1078.1" y2="1816.0" class="k r"/>
<line x1="1103.5" y1="1766.0" x2="1103.5" y2="1790.1" class="k r"/>
<line x1="1128.8" y1="1766.0" x2="1128.8" y2="1816.0" class="k r"/>
<line x1="1154.2" y1="1766.0" x2="1154.2" y2="1790.1" class="k r"/>
<line x1="1179.6" y1="1766.0" x2="1179.6" y2="1816.0" class="k r"/>
<line x1="1204.9" y1="1766.0" x2="1204.9" y2="1790.1" class="k r"/>
<line x1="1230.3" y1="1766.0" x2="1230.3" y2="1816.0" class="k r"/>
<line x1="1255.6" y1="1766.0" x2="1255.6" y2="1790.1" class="k r"/>
<line x1="1281.0" y1="1766.0" x2="1281.0" y2="1816.0" class="k r"/>
<line x1="1306.3" y1="1766.0" x2="1306.3" y2="1790.1" class="k r"/>
<line x1="1331.7" y1="1766.0" x2="1331.7" y2="1816.0" class="k r"/>
<line x1="1357.0" y1="1766.0" x2="1357.0" y2="1790.1" class="k r"/>
<line x1="1382.4" y1="1766.0" x2="1382.4" y2="1816.0" class="k r"/>
<line x1="1407.7" y1="1766.0" x2="1407.7" y2="1790.1" class="k r"/>
<line x1="1433.1" y1="1766.0" x2="1433.1" y2="1816.0" class="k r"/>
<line x1="1458.5" y1="1766.0" x2="1458.5" y2="1790.1" class="k r"/>
<line x1="1483.8" y1="1766.0" x2="1483.8" y2="1816.0" class="k r"/>
<line x1="1509.2" y1="1766.0" x2="1509.2" y2="1790.1" class="k r"/>
<line x1="1534.5" y1="1766.0" x2="1534.5" y2="1816.0" class="k r"/>
<line x1="1559.9" y1="1766.0" x2="1559.9" y2="1790.1" class="k r"/>
<line x1="1585.2" y1="1766.0" x2="1585.2" y2="1816.0" class="k r"/>
<line x1="1610.6" y1="1766.0" x2="1610.6" y2="1790.1" class="k r"/>
<line x1="1635.9" y1="1766.0" x2="1635.9" y2="1816.0" class="k r"/>
<line x1="1661.3" y1="1766.0" x2="1661.3" y2="1790.1" class="k r"/>
<line x1="1686.7" y1="1766.0" x2="1686.7" y2="1816.0" class="k r"/>
<line x1="1712.0" y1="1766.0" x2="1712.0" y2="1790.1" class="k r"/>
<line x1="1737.4" y1="1766.0" x2="1737.4" y2="1816.0" class="k r"/>
<line x1="1762.7" y1="1766.0" x2="1762.7" y2="1790.1" class="k r"/>
<line x1="1788.1" y1="1766.0" x2="1788.1" y2="1816.0" class="k r"/>
<line x1="1813.4" y1="1766.0" x2="1813.4" y2="1790.1" class="k r"/>
<line x1="1838.8" y1="1766.0" x2="1838.8" y2="1816.0" class="k r"/>
<line x1="1864.1" y1="1766.0" x2="1864.1" y2="1790.1" class="k r"/>
<line x1="1889.5" y1="1766.0" x2="1889.5" y2="1816.0" class="k r"/>
<line x1="1914.8" y1="1766.0" x2="1914.8" y2="1790.1" class="k r"/>
<line x1="1940.2" y1="1766.0" x2="1940.2" y2="1816.0" class="k r"/>
<text x="266" y="1019.6" class="num" text-anchor="end">15</text>
<text x="266" y="1148.2" class="num" text-anchor="end">13</text>
<text x="266" y="1276.7" class="num" text-anchor="end">11</text>
<text x="266" y="1405.3" class="num" text-anchor="end">9</text>
<text x="266" y="1533.9" class="num" text-anchor="end">7</text>
<text x="266" y="1662.4" class="num" text-anchor="end">5</text>
<text x="266" y="1791.0" class="num" text-anchor="end">3</text>
<path class="gray" d="M369.0,2110.6 L377.5,2035.1 L386.0,2357.4 L394.5,2338.3 L402.9,2090.9 L411.4,2453.0 L419.9,2434.0 L428.4,2262.9 L436.9,2472.2 L445.4,2458.8 L453.9,2500.0 L462.4,2548.7 L470.8,2470.3 L479.3,2510.5 L487.8,2489.4 L496.3,2491.3 L504.8,2510.0 L513.3,2529.6 L521.8,2529.6 L530.3,2501.0 L538.7,2501.0 L547.2,2510.5 L555.7,2470.3 L564.2,2510.5 L572.7,2451.1 L581.2,2472.2 L589.7,2472.2 L598.1,2393.7 L606.6,2491.3 L615.1,2434.0 L623.6,2318.2 L632.1,2529.6 L640.6,2472.0 L649.1,2374.6 L657.6,2434.0 L666.0,2472.2 L674.5,2375.6 L683.0,2453.0 L691.5,2491.3 L700.0,2394.7 L708.5,2453.0 L717.0,2491.3 L725.5,2413.8 L733.9,2472.2 L742.4,2529.6 L750.9,2470.3 L759.4,2489.4 L767.9,2489.4 L776.4,2510.5 L784.9,2489.4 L793.4,2510.5 L801.8,2470.3 L810.3,2529.6 L818.8,2529.6 L827.3,2529.6 L835.8,2491.3 L844.3,2472.2 L852.8,2451.1 L861.2,2491.3 L869.7,2491.3 L878.2,2433.9 L886.7,2453.0 L895.2,2433.9 L903.7,2111.8 L912.2,2407.0 L920.7,2405.0 L929.1,2282.6 L937.6,2380.0 L946.1,2433.9 L954.6,2205.9 L963.1,2367.0 L971.6,2433.9 L980.1,2149.0 L988.6,2434.0 L997.0,2472.2 L1005.5,2393.7 L1014.0,2420.0 L1022.5,2510.5 L1031.0,2393.7 L1039.5,2472.2 L1048.0,2472.2 L1056.4,2491.3 L1064.9,2470.3 L1073.4,2470.3 L1081.9,2470.3 L1090.4,2510.5 L1098.9,2529.6 L1107.4,2485.6 L1115.9,2451.1 L1124.3,2472.2 L1132.8,2453.0 L1141.3,2414.8 L1149.8,2357.4 L1158.3,2053.7 L1166.8,2397.6 L1175.3,2376.5 L1183.8,2262.9 L1192.2,2403.3 L1200.7,2407.1 L1209.2,2073.5 L1217.7,2433.9 L1226.2,2376.5 L1234.7,2053.7 L1243.2,2414.8 L1251.6,2453.0 L1260.1,2424.4 L1268.6,2430.0 L1277.1,2422.4 L1285.6,2462.6 L1294.1,2508.5 L1302.6,2508.5 L1311.1,2451.1 L1319.5,2472.2 L1328.0,2529.6 L1336.5,2510.5 L1345.0,2470.3 L1353.5,2510.5 L1362.0,2472.2 L1370.5,2451.1 L1379.0,2491.3 L1387.4,2453.0 L1395.9,2453.0 L1404.4,2433.9 L1412.9,2355.5 L1421.4,2376.5 L1429.9,2472.2 L1438.4,2318.2 L1446.8,2395.7 L1455.3,2395.7 L1463.8,2301.2 L1472.3,2433.9 L1480.8,2453.0 L1489.3,2110.6 L1497.8,2414.8 L1506.3,2548.7 L1514.7,2529.6 L1523.2,2462.6 L1531.7,2437.8 L1540.2,2414.8 L1548.7,2414.8 L1557.2,2428.4 L1565.7,2413.6 L1574.2,2413.6 L1582.6,2449.4 L1591.1,2472.6 L1599.6,2472.6 L1608.1,2451.5 L1616.6,2470.5 L1625.1,2432.6 L1633.6,2491.5 L1642.0,2470.5 L1650.5,2470.5 L1659.0,2510.4 L1667.5,2491.5 L1676.0,2491.5 L1684.5,2491.5 L1693.0,2445.2 L1701.5,2470.5 L1709.9,2491.5 L1718.4,2470.5 L1726.9,2394.7 L1735.4,2472.6 L1743.9,2394.7 L1752.4,2445.2 L1760.9,2449.4 L1769.4,2438.9 L1777.8,2443.1 L1786.3,2428.4 L1794.8,2280.0 L1803.3,2365.2 L1811.8,2453.6 L1820.3,2300.0 L1828.8,2472.6 L1837.3,2491.5 L1845.7,2394.7 L1854.2,2470.5 L1862.7,2491.5 L1868.5,2470.5 L1873.5,2528.0"/>
<path class="gray" d="M1826.5,2507.5 L1864.4,2478.9 L1871.5,2470.5"/>
<path class="thin" d="M393.3,2256.6 L394.7,2259.4 L405.2,2280.5 L408.8,2311.4 L410.2,2343.6 L418.6,2360.5 L425.6,2381.5 L429.8,2402.6 L432.6,2423.6 L435.4,2439.0 L441.1,2445.4 L446.8,2447.3 L454.5,2458.8 L460.2,2481.8 L464.1,2491.3 L469.8,2493.2 L479.4,2500.9 L487.0,2507.6 L494.7,2504.7 L504.2,2507.6 L513.8,2502.8 L521.5,2506.6 L531.0,2502.8 L540.6,2502.8 L546.3,2493.2 L554.0,2485.6 L561.6,2483.7 L567.4,2476.0 L573.1,2468.4 L580.8,2466.5 L590.3,2460.7 L594.2,2445.4 L598.0,2433.9 L601.8,2437.8 L609.5,2443.5 L617.1,2441.6 L624.8,2432.0 L632.4,2435.8 L640.1,2433.9 L647.7,2430.1 L655.0,2441.6 L662.7,2437.8 L670.3,2430.1 L676.0,2432.0 L683.7,2443.5 L691.4,2447.3 L699.0,2437.8 L704.7,2445.4 L712.4,2460.7 L720.1,2468.4 L727.7,2470.3 L733.4,2477.9 L748.7,2483.7 L758.3,2495.2 L767.9,2499.0 L775.5,2489.4 L785.1,2497.1 L792.8,2502.8 L802.3,2508.5 L817.6,2502.8 L827.2,2495.2 L836.8,2497.1 L846.3,2491.3 L855.9,2477.9 L863.5,2468.4 L871.2,2460.7 L875.0,2414.8 L878.9,2407.1 L888.4,2401.4 L896.1,2391.8 L903.7,2363.1 L911.4,2353.6 L920.9,2347.8 L928.6,2317.2 L936.2,2353.6 L945.8,2357.4 L955.0,2319.1 L962.7,2345.9 L972.2,2361.2 L979.9,2354.5 L987.5,2380.4 L995.2,2397.6 L1004.7,2399.5 L1010.5,2433.9 L1014.3,2445.4 L1029.6,2451.1 L1037.3,2460.7 L1048.7,2468.4 L1056.4,2462.6 L1066.0,2477.9 L1073.6,2488.5 L1085.1,2487.5 L1092.8,2481.8 L1104.2,2479.8 L1117.6,2472.2 L1125.3,2449.2 L1128.1,2414.8 L1131.0,2382.3 L1142.5,2370.8 L1150.2,2359.3 L1157.8,2330.6 L1167.4,2323.0 L1176.9,2323.0 L1182.7,2300.0 L1192.2,2338.3 L1201.8,2334.4 L1209.5,2300.0 L1220.9,2315.3 L1232.4,2313.4 L1242.0,2365.1 L1251.6,2361.2 L1255.0,2365.1 L1260.7,2376.5 L1264.6,2414.8 L1266.5,2441.6 L1276.0,2453.1 L1283.7,2455.0 L1297.1,2470.3 L1304.7,2479.8 L1310.5,2489.4 L1322.0,2494.2 L1331.5,2489.4 L1337.3,2486.5 L1350.7,2489.4 L1358.3,2481.8 L1369.8,2470.3 L1379.4,2464.5 L1385.1,2449.2 L1392.8,2437.8 L1404.2,2426.3 L1410.0,2411.0 L1421.5,2399.5 L1431.0,2389.9 L1438.7,2374.6 L1455.9,2395.7 L1463.5,2344.0 L1473.1,2357.4 L1480.8,2376.5 L1490.3,2399.5 L1499.9,2418.6 L1505.6,2420.5 L1515.2,2414.8 L1522.9,2458.8 L1532.4,2460.7 L1542.0,2439.7 L1547.7,2426.3 L1555.0,2424.2 L1567.6,2432.6 L1576.0,2441.0 L1586.6,2445.2 L1597.1,2451.5 L1605.5,2459.9 L1616.0,2464.1 L1626.6,2466.3 L1639.2,2474.7 L1651.8,2481.0 L1659.2,2487.3 L1666.5,2478.9 L1677.1,2476.8 L1685.5,2478.9 L1693.9,2472.6 L1702.3,2462.0 L1710.7,2457.8 L1719.2,2445.2 L1736.0,2445.2 L1744.4,2434.7 L1754.9,2432.6 L1763.4,2430.5 L1769.7,2411.5 L1786.5,2411.5 L1794.9,2392.6 L1803.3,2401.0 L1811.8,2405.2 L1820.2,2398.9 L1828.6,2432.6 L1837.0,2443.1"/>
<path class="dash" style="stroke-dasharray:24.5 26.45" d="M369.5,2423.7 L1871.5,2435.0"/>
<path class="thick" d="M368.9,2188.3 L373.9,2208.9 L378.9,2228.5 L383.9,2247.1 L388.9,2264.8 L393.9,2281.4 L398.9,2297.2 L403.9,2312.0 L408.9,2325.8 L413.9,2338.6 L418.9,2350.6 L423.9,2361.6 L428.9,2371.8 L433.9,2381.3 L438.9,2390.1 L443.9,2398.3 L448.9,2406.0 L453.9,2413.2 L458.9,2420.0 L463.9,2426.4 L468.9,2432.6 L473.9,2438.5 L478.9,2444.2 L483.9,2449.7 L488.9,2454.9 L493.8,2459.8 L498.8,2464.5 L503.8,2468.9 L508.8,2473.1 L513.8,2476.9 L518.8,2480.5 L523.8,2483.9 L528.8,2486.9 L533.8,2489.7 L538.8,2492.1 L543.8,2494.3 L548.8,2496.2 L553.8,2497.8 L558.8,2499.1 L563.8,2500.1 L568.8,2500.9 L573.8,2501.5 L578.8,2501.9 L583.8,2502.1 L588.8,2502.2 L593.8,2502.1 L598.8,2501.8 L603.8,2501.4 L608.8,2501.0 L613.8,2500.4 L618.8,2499.7 L623.7,2499.0 L628.7,2498.2 L633.7,2497.2 L638.7,2496.2 L643.7,2495.2 L648.7,2494.0 L653.7,2492.8 L658.7,2491.5 L663.7,2490.2 L668.7,2488.8 L673.7,2487.3 L678.7,2485.8 L683.7,2484.2 L688.7,2482.6 L693.7,2481.0 L698.7,2479.3 L703.7,2477.6 L708.7,2475.8 L713.7,2474.0 L718.7,2472.2 L723.7,2470.4 L728.7,2468.5 L733.7,2466.7 L738.7,2464.8 L743.7,2462.9 L748.7,2461.0 L753.6,2459.1 L758.6,2457.2 L763.6,2455.3 L768.6,2453.4 L773.6,2451.5 L778.6,2449.6 L783.6,2447.8 L788.6,2446.0 L793.6,2444.2 L798.6,2442.4 L803.6,2440.7 L808.6,2439.0 L813.6,2437.3 L818.6,2435.6 L823.6,2434.1 L828.6,2432.5 L833.6,2431.0 L838.6,2429.5 L843.6,2428.0 L848.6,2426.6 L853.6,2425.3 L858.6,2423.9 L863.6,2422.6 L868.6,2421.4 L873.6,2420.1 L878.6,2418.9 L883.6,2417.8 L888.5,2416.7 L893.5,2415.6 L898.5,2414.6 L903.5,2413.5 L908.5,2412.6 L913.5,2411.6 L918.5,2410.7 L923.5,2409.9 L928.5,2409.1 L933.5,2408.3 L938.5,2407.5 L943.5,2406.8 L948.5,2406.1 L953.5,2405.5 L958.5,2404.9 L963.5,2404.3 L968.5,2403.8 L973.5,2403.3 L978.5,2402.8 L983.5,2402.4 L988.5,2402.0 L993.5,2401.6 L998.5,2401.3 L1003.5,2401.0 L1008.5,2400.8 L1013.5,2400.6 L1018.4,2400.4 L1023.4,2400.3 L1028.4,2400.2 L1033.4,2400.1 L1038.4,2400.1 L1043.4,2400.1 L1048.4,2400.1 L1053.4,2400.2 L1058.4,2400.3 L1063.4,2400.4 L1068.4,2400.6 L1073.4,2400.8 L1078.4,2401.0 L1083.4,2401.3 L1088.4,2401.6 L1093.4,2402.0 L1098.4,2402.3 L1103.4,2402.7 L1108.4,2403.1 L1113.4,2403.5 L1118.4,2404.0 L1123.4,2404.4 L1128.4,2404.9 L1133.4,2405.4 L1138.4,2405.9 L1143.4,2406.4 L1148.3,2406.9 L1153.3,2407.4 L1158.3,2407.9 L1163.3,2408.4 L1168.3,2408.9 L1173.3,2409.4 L1178.3,2409.8 L1183.3,2410.3 L1188.3,2410.8 L1193.3,2411.2 L1198.3,2411.7 L1203.3,2412.1 L1208.3,2412.5 L1213.3,2412.9 L1218.3,2413.2 L1223.3,2413.6 L1228.3,2413.9 L1233.3,2414.2 L1238.3,2414.4 L1243.3,2414.6 L1248.3,2414.9 L1253.3,2415.1 L1258.3,2415.2 L1263.3,2415.4 L1268.3,2415.6 L1273.3,2415.7 L1278.2,2415.8 L1283.2,2416.0 L1288.2,2416.1 L1293.2,2416.2 L1298.2,2416.3 L1303.2,2416.4 L1308.2,2416.5 L1313.2,2416.7 L1318.2,2416.8 L1323.2,2416.9 L1328.2,2417.1 L1333.2,2417.2 L1338.2,2417.4 L1343.2,2417.6 L1348.2,2417.8 L1353.2,2418.0 L1358.2,2418.2 L1363.2,2418.5 L1368.2,2418.7 L1373.2,2419.0 L1378.2,2419.2 L1383.2,2419.5 L1388.2,2419.8 L1393.2,2420.1 L1398.2,2420.5 L1403.2,2420.8 L1408.1,2421.1 L1413.1,2421.5 L1418.1,2421.9 L1423.1,2422.3 L1428.1,2422.6 L1433.1,2423.1 L1438.1,2423.5 L1443.1,2423.9 L1448.1,2424.4 L1453.1,2424.8 L1458.1,2425.3 L1463.1,2425.8 L1468.1,2426.3 L1473.1,2426.8 L1478.1,2427.3 L1483.1,2427.8 L1488.1,2428.4 L1493.1,2428.9 L1498.1,2429.5 L1503.1,2430.1 L1508.1,2430.7 L1513.1,2431.3 L1518.1,2431.9 L1523.1,2432.5 L1528.1,2433.1 L1533.1,2433.8 L1538.1,2434.5 L1543.0,2435.1 L1548.0,2435.8 L1553.0,2436.5 L1558.0,2437.2 L1563.0,2438.0 L1568.0,2438.7 L1573.0,2439.4 L1578.0,2440.2 L1583.0,2441.0 L1588.0,2441.7 L1593.0,2442.5 L1598.0,2443.3 L1603.0,2444.1 L1608.0,2444.9 L1613.0,2445.6 L1618.0,2446.4 L1623.0,2447.1 L1628.0,2447.9 L1633.0,2448.6 L1638.0,2449.3 L1643.0,2450.0 L1648.0,2450.6 L1653.0,2451.3 L1658.0,2451.8 L1663.0,2452.4 L1668.0,2452.9 L1672.9,2453.4 L1677.9,2453.9 L1682.9,2454.3 L1687.9,2454.6 L1692.9,2454.9 L1697.9,2455.2 L1702.9,2455.3 L1707.9,2455.5 L1712.9,2455.5 L1717.9,2455.6 L1722.9,2455.5 L1727.9,2455.4 L1732.9,2455.2 L1737.9,2454.9 L1742.9,2454.6 L1747.9,2454.1 L1752.9,2453.7 L1757.9,2453.1 L1762.9,2452.5 L1767.9,2451.8 L1772.9,2451.0 L1777.9,2450.1 L1782.9,2449.2 L1787.9,2448.1 L1792.9,2447.0 L1797.9,2445.9 L1802.8,2444.6 L1807.8,2443.3 L1812.8,2441.8 L1817.8,2440.3 L1822.8,2438.7 L1827.8,2437.1 L1832.8,2435.3 L1837.8,2433.5 L1842.8,2431.5 L1847.8,2429.5 L1852.8,2427.4 L1857.8,2425.2 L1862.8,2422.9 L1867.8,2420.6 L1872.8,2418.1"/>
<line x1="352.0" y1="1956.7" x2="352.0" y2="2768.1" class="k"/>
<line x1="352.0" y1="2718.0" x2="352.0" y2="2768.1" class="k r"/>
<line x1="250.6" y1="1959.3" x2="352.0" y2="1959.3" class="k r"/>
<line x1="302.1" y1="2054.1" x2="352.0" y2="2054.1" class="k r"/>
<line x1="250.6" y1="2149.0" x2="352.0" y2="2149.0" class="k r"/>
<line x1="302.1" y1="2243.8" x2="352.0" y2="2243.8" class="k r"/>
<line x1="250.6" y1="2338.7" x2="352.0" y2="2338.7" class="k r"/>
<line x1="302.1" y1="2433.5" x2="352.0" y2="2433.5" class="k r"/>
<line x1="250.6" y1="2528.3" x2="352.0" y2="2528.3" class="k r"/>
<line x1="302.1" y1="2623.2" x2="352.0" y2="2623.2" class="k r"/>
<line x1="250.6" y1="2718.0" x2="352.0" y2="2718.0" class="k r"/>
<line x1="349.4" y1="2718.0" x2="1882.2" y2="2718.0" class="k"/>
<line x1="377.5" y1="2718.0" x2="377.5" y2="2742.2" class="k r"/>
<line x1="402.9" y1="2718.0" x2="402.9" y2="2768.1" class="k r"/>
<line x1="428.4" y1="2718.0" x2="428.4" y2="2742.2" class="k r"/>
<line x1="453.8" y1="2718.0" x2="453.8" y2="2768.1" class="k r"/>
<line x1="479.3" y1="2718.0" x2="479.3" y2="2742.2" class="k r"/>
<line x1="504.8" y1="2718.0" x2="504.8" y2="2768.1" class="k r"/>
<line x1="530.2" y1="2718.0" x2="530.2" y2="2742.2" class="k r"/>
<line x1="555.7" y1="2718.0" x2="555.7" y2="2768.1" class="k r"/>
<line x1="581.1" y1="2718.0" x2="581.1" y2="2742.2" class="k r"/>
<line x1="606.6" y1="2718.0" x2="606.6" y2="2768.1" class="k r"/>
<line x1="632.1" y1="2718.0" x2="632.1" y2="2742.2" class="k r"/>
<line x1="657.5" y1="2718.0" x2="657.5" y2="2768.1" class="k r"/>
<line x1="683.0" y1="2718.0" x2="683.0" y2="2742.2" class="k r"/>
<line x1="708.4" y1="2718.0" x2="708.4" y2="2768.1" class="k r"/>
<line x1="733.9" y1="2718.0" x2="733.9" y2="2742.2" class="k r"/>
<line x1="759.4" y1="2718.0" x2="759.4" y2="2768.1" class="k r"/>
<line x1="784.8" y1="2718.0" x2="784.8" y2="2742.2" class="k r"/>
<line x1="810.3" y1="2718.0" x2="810.3" y2="2768.1" class="k r"/>
<line x1="835.7" y1="2718.0" x2="835.7" y2="2742.2" class="k r"/>
<line x1="861.2" y1="2718.0" x2="861.2" y2="2768.1" class="k r"/>
<line x1="886.7" y1="2718.0" x2="886.7" y2="2742.2" class="k r"/>
<line x1="912.1" y1="2718.0" x2="912.1" y2="2768.1" class="k r"/>
<line x1="937.6" y1="2718.0" x2="937.6" y2="2742.2" class="k r"/>
<line x1="963.0" y1="2718.0" x2="963.0" y2="2768.1" class="k r"/>
<line x1="988.5" y1="2718.0" x2="988.5" y2="2742.2" class="k r"/>
<line x1="1014.0" y1="2718.0" x2="1014.0" y2="2768.1" class="k r"/>
<line x1="1039.4" y1="2718.0" x2="1039.4" y2="2742.2" class="k r"/>
<line x1="1064.9" y1="2718.0" x2="1064.9" y2="2768.1" class="k r"/>
<line x1="1090.3" y1="2718.0" x2="1090.3" y2="2742.2" class="k r"/>
<line x1="1115.8" y1="2718.0" x2="1115.8" y2="2768.1" class="k r"/>
<line x1="1141.3" y1="2718.0" x2="1141.3" y2="2742.2" class="k r"/>
<line x1="1166.7" y1="2718.0" x2="1166.7" y2="2768.1" class="k r"/>
<line x1="1192.2" y1="2718.0" x2="1192.2" y2="2742.2" class="k r"/>
<line x1="1217.6" y1="2718.0" x2="1217.6" y2="2768.1" class="k r"/>
<line x1="1243.1" y1="2718.0" x2="1243.1" y2="2742.2" class="k r"/>
<line x1="1268.6" y1="2718.0" x2="1268.6" y2="2768.1" class="k r"/>
<line x1="1294.0" y1="2718.0" x2="1294.0" y2="2742.2" class="k r"/>
<line x1="1319.5" y1="2718.0" x2="1319.5" y2="2768.1" class="k r"/>
<line x1="1344.9" y1="2718.0" x2="1344.9" y2="2742.2" class="k r"/>
<line x1="1370.4" y1="2718.0" x2="1370.4" y2="2768.1" class="k r"/>
<line x1="1395.9" y1="2718.0" x2="1395.9" y2="2742.2" class="k r"/>
<line x1="1421.3" y1="2718.0" x2="1421.3" y2="2768.1" class="k r"/>
<line x1="1446.8" y1="2718.0" x2="1446.8" y2="2742.2" class="k r"/>
<line x1="1472.2" y1="2718.0" x2="1472.2" y2="2768.1" class="k r"/>
<line x1="1497.7" y1="2718.0" x2="1497.7" y2="2742.2" class="k r"/>
<line x1="1523.2" y1="2718.0" x2="1523.2" y2="2768.1" class="k r"/>
<line x1="1548.6" y1="2718.0" x2="1548.6" y2="2742.2" class="k r"/>
<line x1="1574.1" y1="2718.0" x2="1574.1" y2="2768.1" class="k r"/>
<line x1="1599.5" y1="2718.0" x2="1599.5" y2="2742.2" class="k r"/>
<line x1="1625.0" y1="2718.0" x2="1625.0" y2="2768.1" class="k r"/>
<line x1="1650.5" y1="2718.0" x2="1650.5" y2="2742.2" class="k r"/>
<line x1="1675.9" y1="2718.0" x2="1675.9" y2="2768.1" class="k r"/>
<line x1="1701.4" y1="2718.0" x2="1701.4" y2="2742.2" class="k r"/>
<line x1="1726.8" y1="2718.0" x2="1726.8" y2="2768.1" class="k r"/>
<line x1="1752.3" y1="2718.0" x2="1752.3" y2="2742.2" class="k r"/>
<line x1="1777.8" y1="2718.0" x2="1777.8" y2="2768.1" class="k r"/>
<line x1="1803.2" y1="2718.0" x2="1803.2" y2="2742.2" class="k r"/>
<line x1="1828.7" y1="2718.0" x2="1828.7" y2="2768.1" class="k r"/>
<line x1="1854.1" y1="2718.0" x2="1854.1" y2="2742.2" class="k r"/>
<line x1="1879.6" y1="2718.0" x2="1879.6" y2="2768.1" class="k r"/>
<text x="201" y="1984.3" class="num" text-anchor="end">6</text>
<text x="201" y="2174.0" class="num" text-anchor="end">5</text>
<text x="201" y="2363.7" class="num" text-anchor="end">4</text>
<text x="201" y="2553.3" class="num" text-anchor="end">3</text>
<text x="201" y="2743.0" class="num" text-anchor="end">2</text>
<text x="520" y="112.5" class="ttl">January – February, December</text>
<text x="446" y="1059.6" class="ttl" style="font-size:71.5px">January – February, December</text>
<text x="387" y="2020.7" class="ttl" style="font-size:71.5px">January – February, December</text>
<text x="452" y="774.8" class="eq" style="font-size:55.9px">Y = –0.1705652839 * X + 139.7617754</text>
<text x="642" y="1732.7" class="eq" style="font-size:56.75px">Y = –0.008275518683 * X + 9.344440059</text>
<text x="565" y="2699.7" class="eq" style="font-size:56.65px">Y = –0.0003391745547 * X + 3.552043612</text>
<text x="352.0" y="2882.6" class="num" text-anchor="middle">1/1/58</text>
<text x="657.5" y="2882.6" class="num" text-anchor="middle">1/1/70</text>
<text x="963.0" y="2882.6" class="num" text-anchor="middle">1/1/82</text>
<text x="1268.6" y="2882.6" class="num" text-anchor="middle">1/1/94</text>
<text x="1574.1" y="2882.6" class="num" text-anchor="middle">1/1/06</text>
<text x="1879.6" y="2882.6" class="num" text-anchor="middle">1/1/18</text>
<text x="993" y="933" class="cap" text-anchor="middle">(<tspan font-weight="bold">a</tspan>)</text>
<text x="993" y="1898.5" class="cap" text-anchor="middle">(<tspan font-weight="bold">b</tspan>)</text>
<text x="993.5" y="2977.5" class="cap" text-anchor="middle">(<tspan font-weight="bold">c</tspan>)</text>
<text class="yt" transform="translate(115.8,594) rotate(-90)">F10.7, sfu</text>
<text class="yt" transform="translate(110.9,1631.2) rotate(-90)">foF2<tspan font-size="51" dy="22">10-14</tspan><tspan dy="-22">, MHz</tspan></text>
<text class="yt" transform="translate(83.7,2583.6) rotate(-90)">foF2<tspan font-size="51" dy="22">23-01</tspan><tspan dy="-22">, MHz</tspan></text>
</svg></body></html>
